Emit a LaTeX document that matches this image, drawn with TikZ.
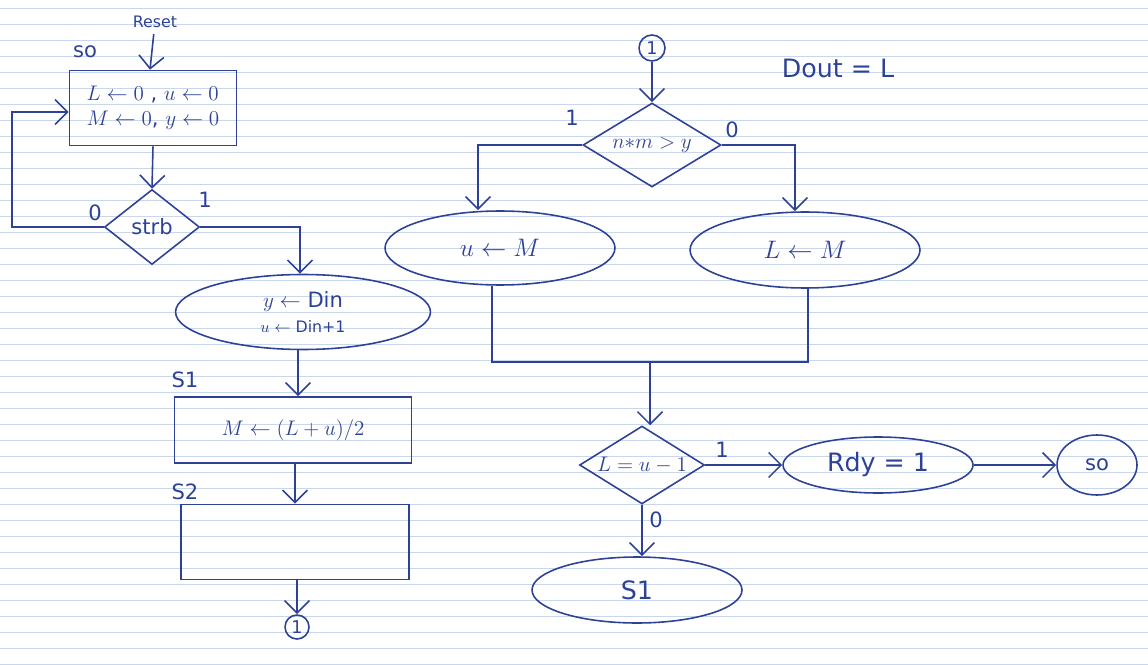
\documentclass[tikz,border=0pt]{standalone}
\usepackage{fontspec}
\setmainfont{DejaVu Sans}
\usetikzlibrary{shapes.geometric,arrows.meta}
\definecolor{ink}{RGB}{45,65,150}
\definecolor{paper}{RGB}{200,215,235}
\tikzset{
 ink/.style={draw=ink,line width=0.9pt},
 arr/.style={ink,-{Straight Barb[length=2.5mm]}},
 txt/.style={text=ink,font=\large},
 ell/.style={ink,ellipse,minimum width=#1},
 ell/.default=4.6cm,
 box/.style={ink,rectangle},
 dia/.style={ink,diamond,aspect=1.6,inner sep=1pt},
}
\begin{document}
\begin{tikzpicture}[x=0.02cm,y=-0.02cm]
\useasboundingbox (0,0) rectangle (1148,665);
\foreach \y in {8,24,...,664} \draw[paper,line width=0.4pt] (0,\y)--(1148,\y);
% left column
\node[txt,font=\small] (reset) at (155,22) {Reset};
\node[txt] (so) at (85,52) {so};
\node[box,minimum width=3.34cm,minimum height=1.5cm,align=left,txt] (b0) at (153,108)
 {$L\leftarrow 0$ , $u\leftarrow 0$\\ $M\leftarrow 0$, $y\leftarrow 0$};
\draw[arr] (reset) -- (b0.north-|150,0);
\node[dia,minimum width=1.9cm,minimum height=1.5cm,txt] (strb) at (152,227) {strb};
\draw[arr] (b0.south) -- (strb.north);
\node[txt] (l0) at (95,213) {0};
\node[txt] (l1) at (205,200) {1};
\coordinate (c1) at (12,227);
\coordinate (c2) at (12,112);
\draw[arr] (strb.west) -- (c1) -- (c2) -- (c2-|b0.west);
\node[ell=5.1cm,minimum height=1.5cm,align=center,txt] (e1) at (303,312)
 {$y\leftarrow$ Din\\ {\small $u\leftarrow$ Din+1}};
\coordinate (c3) at (300,227);
\draw[arr] (strb.east) -- (c3) -- (e1.north-|c3);
\node[txt] (s1) at (185,380) {S1};
\node[box,minimum width=4.74cm,minimum height=1.32cm,txt] (b1) at (293,430) {$M\leftarrow (L+u)/2$\hspace{1.6cm}};
\draw[arr] (e1.south-|298,0) -- (b1.north-|298,0);
\node[txt] (s2) at (185,492) {S2};
\node[box,minimum width=4.56cm,minimum height=1.5cm] (b2) at (295,542) {};
\draw[arr] (b1.south-|295,0) -- (b2.north-|295,0);
\node[ink,circle,minimum size=0.48cm,inner sep=0pt,txt,font=\normalsize] (k1) at (297,627) {1};
\draw[arr] (b2.south-|297,0) -- (k1.north);
% right part
\node[ink,circle,minimum size=0.52cm,inner sep=0pt,txt,font=\normalsize] (k2) at (652,48) {1};
\node[txt,font=\Large] (dout) at (838,68) {Dout = L};
\node[dia,minimum width=2.76cm,minimum height=1.68cm,txt] (d2) at (652,145) {$n{*}m > y$};
\draw[arr] (k2.south) -- (d2.north);
\node[txt] (r1) at (572,118) {1};
\node[txt] (r0) at (732,130) {0};
\node[ell=4.6cm,minimum height=1.48cm,txt,font=\Large] (eu) at (500,248) {$u\leftarrow M$};
\node[ell=4.6cm,minimum height=1.52cm,txt,font=\Large] (el) at (805,250) {$L\leftarrow M$};
\coordinate (c4) at (478,145);
\coordinate (c5) at (795,145);
\draw[arr] (d2.west) -- (c4) -- (c4|-eu.north);
\draw[arr] (d2.east) -- (c5) -- (c5|-el.north);
\coordinate (m1) at (492,362);
\coordinate (m2) at (808,362);
\coordinate (m3) at (650,362);
\draw[ink] (eu.south-|m1) -- (m1) -- (m2) -- (el.south-|m2);
\node[dia,minimum width=2.5cm,minimum height=1.46cm,txt] (d3) at (642,465) {$L=u-1$};
\draw[arr] (m3) -- (d3.north-|m3);
\node[txt] (q1) at (722,450) {1};
\node[txt] (q0) at (656,520) {0};
\node[ell=3.8cm,minimum height=1.12cm,txt,font=\Large] (rdy) at (878,465) {Rdy = 1};
\draw[arr] (d3.east) -- (rdy.west);
\node[ell=1.6cm,minimum height=1.2cm,txt] (so2) at (1097,465) {so};
\draw[arr] (rdy.east) -- (so2.west);
\node[ell=4.2cm,minimum height=1.32cm,txt,font=\Large] (es1) at (637,590) {S1};
\draw[arr] (d3.south) -- (es1.north-|d3.south);
\end{tikzpicture}
\end{document}
